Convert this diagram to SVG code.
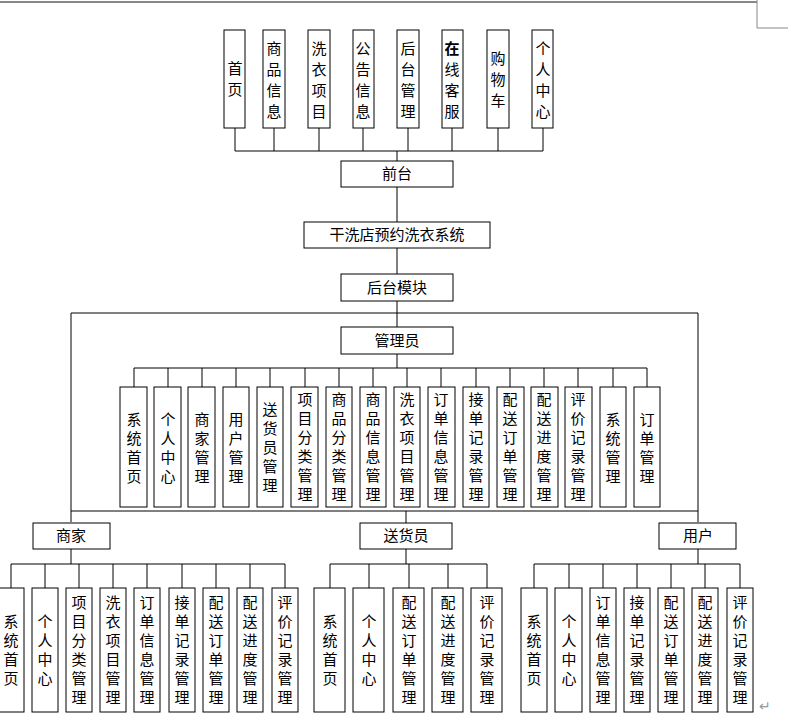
<svg xmlns="http://www.w3.org/2000/svg" width="788" height="714" viewBox="0 0 788 714">
<style>
rect{fill:#fff;stroke:#000;stroke-width:1}
text{font-family:"Liberation Sans","Noto Sans CJK SC",sans-serif;font-size:15px;fill:#000;text-anchor:middle}
.c line,.c polyline{stroke:#000;stroke-width:1;fill:none}
</style>
<rect x="0" y="0" width="788" height="714" style="stroke:none"/>
<g id="page" stroke="#888" fill="none">
<line x1="0" y1="2" x2="757" y2="2" stroke-width="2"/>
<polyline points="757,0 757,28 788,28"/>
</g>
<g class="c" id="connectors">
<polyline points="235,128 235,151 543,151 543,128"/>
<line x1="274" y1="128" x2="274" y2="151"/><line x1="319" y1="128" x2="319" y2="151"/><line x1="363" y1="128" x2="363" y2="151"/><line x1="408" y1="128" x2="408" y2="151"/><line x1="452" y1="128" x2="452" y2="151"/><line x1="498" y1="128" x2="498" y2="151"/>
<line x1="397" y1="151" x2="397" y2="161"/>
<line x1="397" y1="187" x2="397" y2="222"/>
<line x1="397" y1="248" x2="397" y2="274"/>
<line x1="397" y1="301" x2="397" y2="327"/>
<polyline points="71,522 71,313 698,313 698,522"/>
<line x1="397" y1="354" x2="397" y2="368"/>
<line x1="134" y1="368" x2="647" y2="368"/>
<line x1="134" y1="368" x2="134" y2="387"/><line x1="168" y1="368" x2="168" y2="387"/><line x1="202" y1="368" x2="202" y2="387"/><line x1="236" y1="368" x2="236" y2="387"/><line x1="270" y1="368" x2="270" y2="387"/><line x1="305" y1="368" x2="305" y2="387"/><line x1="339" y1="368" x2="339" y2="387"/><line x1="373" y1="368" x2="373" y2="387"/><line x1="407" y1="368" x2="407" y2="387"/><line x1="441" y1="368" x2="441" y2="387"/><line x1="476" y1="368" x2="476" y2="387"/><line x1="510" y1="368" x2="510" y2="387"/><line x1="544" y1="368" x2="544" y2="387"/><line x1="578" y1="368" x2="578" y2="387"/><line x1="613" y1="368" x2="613" y2="387"/><line x1="647" y1="368" x2="647" y2="387"/>
<line x1="71" y1="511" x2="698" y2="511"/>
<line x1="406" y1="511" x2="406" y2="523"/>
<line x1="71" y1="549" x2="71" y2="564"/><line x1="406" y1="549" x2="406" y2="564"/><line x1="698" y1="549" x2="698" y2="564"/>
<polyline points="11,588 11,564 285,564 285,588"/>
<line x1="45" y1="564" x2="45" y2="588"/><line x1="79" y1="564" x2="79" y2="588"/><line x1="113" y1="564" x2="113" y2="588"/><line x1="147" y1="564" x2="147" y2="588"/><line x1="182" y1="564" x2="182" y2="588"/><line x1="216" y1="564" x2="216" y2="588"/><line x1="250" y1="564" x2="250" y2="588"/>
<polyline points="330,588 330,564 487,564 487,588"/>
<line x1="369" y1="564" x2="369" y2="588"/><line x1="409" y1="564" x2="409" y2="588"/><line x1="448" y1="564" x2="448" y2="588"/>
<polyline points="534,588 534,564 740,564 740,588"/>
<line x1="569" y1="564" x2="569" y2="588"/><line x1="603" y1="564" x2="603" y2="588"/><line x1="637" y1="564" x2="637" y2="588"/><line x1="671" y1="564" x2="671" y2="588"/><line x1="705" y1="564" x2="705" y2="588"/>
</g>
<g id="top-nodes">
<g id="n-shouye"><rect x="224" y="30" width="21" height="98"/><text x="235" y="74">首<tspan x="235" dy="21">页</tspan></text></g>
<g id="n-spxx"><rect x="263" y="30" width="22" height="98"/><text x="274" y="54">商<tspan x="274" dy="21">品</tspan><tspan x="274" dy="21">信</tspan><tspan x="274" dy="21">息</tspan></text></g>
<g id="n-xyxm"><rect x="308" y="30" width="22" height="98"/><text x="319" y="54">洗<tspan x="319" dy="21">衣</tspan><tspan x="319" dy="21">项</tspan><tspan x="319" dy="21">目</tspan></text></g>
<g id="n-ggxx"><rect x="353" y="30" width="21" height="98"/><text x="363" y="54">公<tspan x="363" dy="21">告</tspan><tspan x="363" dy="21">信</tspan><tspan x="363" dy="21">息</tspan></text></g>
<g id="n-htgl"><rect x="397" y="30" width="22" height="98"/><text x="408" y="54">后<tspan x="408" dy="21">台</tspan><tspan x="408" dy="21">管</tspan><tspan x="408" dy="21">理</tspan></text></g>
<g id="n-zxkf"><rect x="442" y="30" width="21" height="98"/><text x="452" y="54" font-weight="bold">在<tspan x="452" dy="21" font-weight="normal">线</tspan><tspan x="452" dy="21" font-weight="normal">客</tspan><tspan x="452" dy="21" font-weight="normal">服</tspan></text></g>
<g id="n-gwc"><rect x="487" y="30" width="22" height="98"/><text x="498" y="64">购<tspan x="498" dy="21">物</tspan><tspan x="498" dy="21">车</tspan></text></g>
<g id="n-grzx"><rect x="532" y="30" width="21" height="98"/><text x="543" y="54">个<tspan x="543" dy="21">人</tspan><tspan x="543" dy="21">中</tspan><tspan x="543" dy="21">心</tspan></text></g>
</g>
<g id="n-qiantai"><rect x="341" y="161" width="112" height="26"/><text x="397" y="179">前台</text></g>
<g id="n-system"><rect x="304" y="222" width="186" height="26"/><text x="397" y="240">干洗店预约洗衣系统</text></g>
<g id="n-houtai"><rect x="341" y="274" width="112" height="27"/><text x="397" y="293">后台模块</text></g>
<g id="n-admin"><rect x="341" y="327" width="112" height="27"/><text x="397" y="346">管理员</text></g>
<g id="admin-children">
<g id="a1"><rect x="120" y="387" width="27" height="120"/><text x="134" y="425">系<tspan x="134" dy="19">统</tspan><tspan x="134" dy="19">首</tspan><tspan x="134" dy="19">页</tspan></text></g>
<g id="a2"><rect x="154" y="387" width="27" height="120"/><text x="168" y="425">个<tspan x="168" dy="19">人</tspan><tspan x="168" dy="19">中</tspan><tspan x="168" dy="19">心</tspan></text></g>
<g id="a3"><rect x="188" y="387" width="27" height="120"/><text x="202" y="425">商<tspan x="202" dy="19">家</tspan><tspan x="202" dy="19">管</tspan><tspan x="202" dy="19">理</tspan></text></g>
<g id="a4"><rect x="223" y="387" width="26" height="120"/><text x="236" y="425">用<tspan x="236" dy="19">户</tspan><tspan x="236" dy="19">管</tspan><tspan x="236" dy="19">理</tspan></text></g>
<g id="a5"><rect x="257" y="387" width="26" height="120"/><text x="270" y="415">送<tspan x="270" dy="19">货</tspan><tspan x="270" dy="19">员</tspan><tspan x="270" dy="19">管</tspan><tspan x="270" dy="19">理</tspan></text></g>
<g id="a6"><rect x="291" y="387" width="27" height="120"/><text x="305" y="405">项<tspan x="305" dy="19">目</tspan><tspan x="305" dy="19">分</tspan><tspan x="305" dy="19">类</tspan><tspan x="305" dy="19">管</tspan><tspan x="305" dy="19">理</tspan></text></g>
<g id="a7"><rect x="326" y="387" width="26" height="120"/><text x="339" y="405">商<tspan x="339" dy="19">品</tspan><tspan x="339" dy="19">分</tspan><tspan x="339" dy="19">类</tspan><tspan x="339" dy="19">管</tspan><tspan x="339" dy="19">理</tspan></text></g>
<g id="a8"><rect x="360" y="387" width="26" height="120"/><text x="373" y="405">商<tspan x="373" dy="19">品</tspan><tspan x="373" dy="19">信</tspan><tspan x="373" dy="19">息</tspan><tspan x="373" dy="19">管</tspan><tspan x="373" dy="19">理</tspan></text></g>
<g id="a9"><rect x="394" y="387" width="26" height="120"/><text x="407" y="405">洗<tspan x="407" dy="19">衣</tspan><tspan x="407" dy="19">项</tspan><tspan x="407" dy="19">目</tspan><tspan x="407" dy="19">管</tspan><tspan x="407" dy="19">理</tspan></text></g>
<g id="a10"><rect x="428" y="387" width="27" height="120"/><text x="441" y="405">订<tspan x="441" dy="19">单</tspan><tspan x="441" dy="19">信</tspan><tspan x="441" dy="19">息</tspan><tspan x="441" dy="19">管</tspan><tspan x="441" dy="19">理</tspan></text></g>
<g id="a11"><rect x="463" y="387" width="26" height="120"/><text x="476" y="405">接<tspan x="476" dy="19">单</tspan><tspan x="476" dy="19">记</tspan><tspan x="476" dy="19">录</tspan><tspan x="476" dy="19">管</tspan><tspan x="476" dy="19">理</tspan></text></g>
<g id="a12"><rect x="497" y="387" width="27" height="120"/><text x="510" y="405">配<tspan x="510" dy="19">送</tspan><tspan x="510" dy="19">订</tspan><tspan x="510" dy="19">单</tspan><tspan x="510" dy="19">管</tspan><tspan x="510" dy="19">理</tspan></text></g>
<g id="a13"><rect x="531" y="387" width="27" height="120"/><text x="544" y="405">配<tspan x="544" dy="19">送</tspan><tspan x="544" dy="19">进</tspan><tspan x="544" dy="19">度</tspan><tspan x="544" dy="19">管</tspan><tspan x="544" dy="19">理</tspan></text></g>
<g id="a14"><rect x="565" y="387" width="27" height="120"/><text x="578" y="405">评<tspan x="578" dy="19">价</tspan><tspan x="578" dy="19">记</tspan><tspan x="578" dy="19">录</tspan><tspan x="578" dy="19">管</tspan><tspan x="578" dy="19">理</tspan></text></g>
<g id="a15"><rect x="600" y="387" width="26" height="120"/><text x="613" y="425">系<tspan x="613" dy="19">统</tspan><tspan x="613" dy="19">管</tspan><tspan x="613" dy="19">理</tspan></text></g>
<g id="a16"><rect x="634" y="387" width="26" height="120"/><text x="647" y="425">订<tspan x="647" dy="19">单</tspan><tspan x="647" dy="19">管</tspan><tspan x="647" dy="19">理</tspan></text></g>
</g>
<g id="n-shangjia"><rect x="33" y="523" width="77" height="26"/><text x="71" y="541">商家</text></g>
<g id="n-songhuo"><rect x="360" y="523" width="92" height="26"/><text x="406" y="541">送货员</text></g>
<g id="n-yonghu"><rect x="659" y="523" width="77" height="26"/><text x="698" y="541">用户</text></g>
<g id="merchant-children">
<g id="m1"><rect x="-2" y="588" width="26" height="124"/><text x="11" y="627">系<tspan x="11" dy="19">统</tspan><tspan x="11" dy="19">首</tspan><tspan x="11" dy="19">页</tspan></text></g>
<g id="m2"><rect x="32" y="588" width="26" height="124"/><text x="45" y="627">个<tspan x="45" dy="19">人</tspan><tspan x="45" dy="19">中</tspan><tspan x="45" dy="19">心</tspan></text></g>
<g id="m3"><rect x="66" y="588" width="26" height="124"/><text x="79" y="608">项<tspan x="79" dy="19">目</tspan><tspan x="79" dy="19">分</tspan><tspan x="79" dy="19">类</tspan><tspan x="79" dy="19">管</tspan><tspan x="79" dy="19">理</tspan></text></g>
<g id="m4"><rect x="100" y="588" width="26" height="124"/><text x="113" y="608">洗<tspan x="113" dy="19">衣</tspan><tspan x="113" dy="19">项</tspan><tspan x="113" dy="19">目</tspan><tspan x="113" dy="19">管</tspan><tspan x="113" dy="19">理</tspan></text></g>
<g id="m5"><rect x="134" y="588" width="26" height="124"/><text x="147" y="608">订<tspan x="147" dy="19">单</tspan><tspan x="147" dy="19">信</tspan><tspan x="147" dy="19">息</tspan><tspan x="147" dy="19">管</tspan><tspan x="147" dy="19">理</tspan></text></g>
<g id="m6"><rect x="169" y="588" width="26" height="124"/><text x="182" y="608">接<tspan x="182" dy="19">单</tspan><tspan x="182" dy="19">记</tspan><tspan x="182" dy="19">录</tspan><tspan x="182" dy="19">管</tspan><tspan x="182" dy="19">理</tspan></text></g>
<g id="m7"><rect x="203" y="588" width="26" height="124"/><text x="216" y="608">配<tspan x="216" dy="19">送</tspan><tspan x="216" dy="19">订</tspan><tspan x="216" dy="19">单</tspan><tspan x="216" dy="19">管</tspan><tspan x="216" dy="19">理</tspan></text></g>
<g id="m8"><rect x="237" y="588" width="26" height="124"/><text x="250" y="608">配<tspan x="250" dy="19">送</tspan><tspan x="250" dy="19">进</tspan><tspan x="250" dy="19">度</tspan><tspan x="250" dy="19">管</tspan><tspan x="250" dy="19">理</tspan></text></g>
<g id="m9"><rect x="272" y="588" width="26" height="124"/><text x="285" y="608">评<tspan x="285" dy="19">价</tspan><tspan x="285" dy="19">记</tspan><tspan x="285" dy="19">录</tspan><tspan x="285" dy="19">管</tspan><tspan x="285" dy="19">理</tspan></text></g>
</g>
<g id="courier-children">
<g id="d1"><rect x="314" y="588" width="31" height="124"/><text x="330" y="627">系<tspan x="330" dy="19">统</tspan><tspan x="330" dy="19">首</tspan><tspan x="330" dy="19">页</tspan></text></g>
<g id="d2"><rect x="353" y="588" width="31" height="124"/><text x="369" y="627">个<tspan x="369" dy="19">人</tspan><tspan x="369" dy="19">中</tspan><tspan x="369" dy="19">心</tspan></text></g>
<g id="d3"><rect x="393" y="588" width="31" height="124"/><text x="409" y="608">配<tspan x="409" dy="19">送</tspan><tspan x="409" dy="19">订</tspan><tspan x="409" dy="19">单</tspan><tspan x="409" dy="19">管</tspan><tspan x="409" dy="19">理</tspan></text></g>
<g id="d4"><rect x="432" y="588" width="31" height="124"/><text x="448" y="608">配<tspan x="448" dy="19">送</tspan><tspan x="448" dy="19">进</tspan><tspan x="448" dy="19">度</tspan><tspan x="448" dy="19">管</tspan><tspan x="448" dy="19">理</tspan></text></g>
<g id="d5"><rect x="471" y="588" width="31" height="124"/><text x="487" y="608">评<tspan x="487" dy="19">价</tspan><tspan x="487" dy="19">记</tspan><tspan x="487" dy="19">录</tspan><tspan x="487" dy="19">管</tspan><tspan x="487" dy="19">理</tspan></text></g>
</g>
<g id="user-children">
<g id="u1"><rect x="521" y="588" width="26" height="124"/><text x="534" y="627">系<tspan x="534" dy="19">统</tspan><tspan x="534" dy="19">首</tspan><tspan x="534" dy="19">页</tspan></text></g>
<g id="u2"><rect x="555" y="588" width="27" height="124"/><text x="569" y="627">个<tspan x="569" dy="19">人</tspan><tspan x="569" dy="19">中</tspan><tspan x="569" dy="19">心</tspan></text></g>
<g id="u3"><rect x="590" y="588" width="26" height="124"/><text x="603" y="608">订<tspan x="603" dy="19">单</tspan><tspan x="603" dy="19">信</tspan><tspan x="603" dy="19">息</tspan><tspan x="603" dy="19">管</tspan><tspan x="603" dy="19">理</tspan></text></g>
<g id="u4"><rect x="624" y="588" width="26" height="124"/><text x="637" y="608">接<tspan x="637" dy="19">单</tspan><tspan x="637" dy="19">记</tspan><tspan x="637" dy="19">录</tspan><tspan x="637" dy="19">管</tspan><tspan x="637" dy="19">理</tspan></text></g>
<g id="u5"><rect x="658" y="588" width="26" height="124"/><text x="671" y="608">配<tspan x="671" dy="19">送</tspan><tspan x="671" dy="19">订</tspan><tspan x="671" dy="19">单</tspan><tspan x="671" dy="19">管</tspan><tspan x="671" dy="19">理</tspan></text></g>
<g id="u6"><rect x="692" y="588" width="26" height="124"/><text x="705" y="608">配<tspan x="705" dy="19">送</tspan><tspan x="705" dy="19">进</tspan><tspan x="705" dy="19">度</tspan><tspan x="705" dy="19">管</tspan><tspan x="705" dy="19">理</tspan></text></g>
<g id="u7"><rect x="727" y="588" width="26" height="124"/><text x="740" y="608">评<tspan x="740" dy="19">价</tspan><tspan x="740" dy="19">记</tspan><tspan x="740" dy="19">录</tspan><tspan x="740" dy="19">管</tspan><tspan x="740" dy="19">理</tspan></text></g>
</g>
<text x="765" y="711" style="fill:#999;font-size:14px">↵</text>
</svg>
